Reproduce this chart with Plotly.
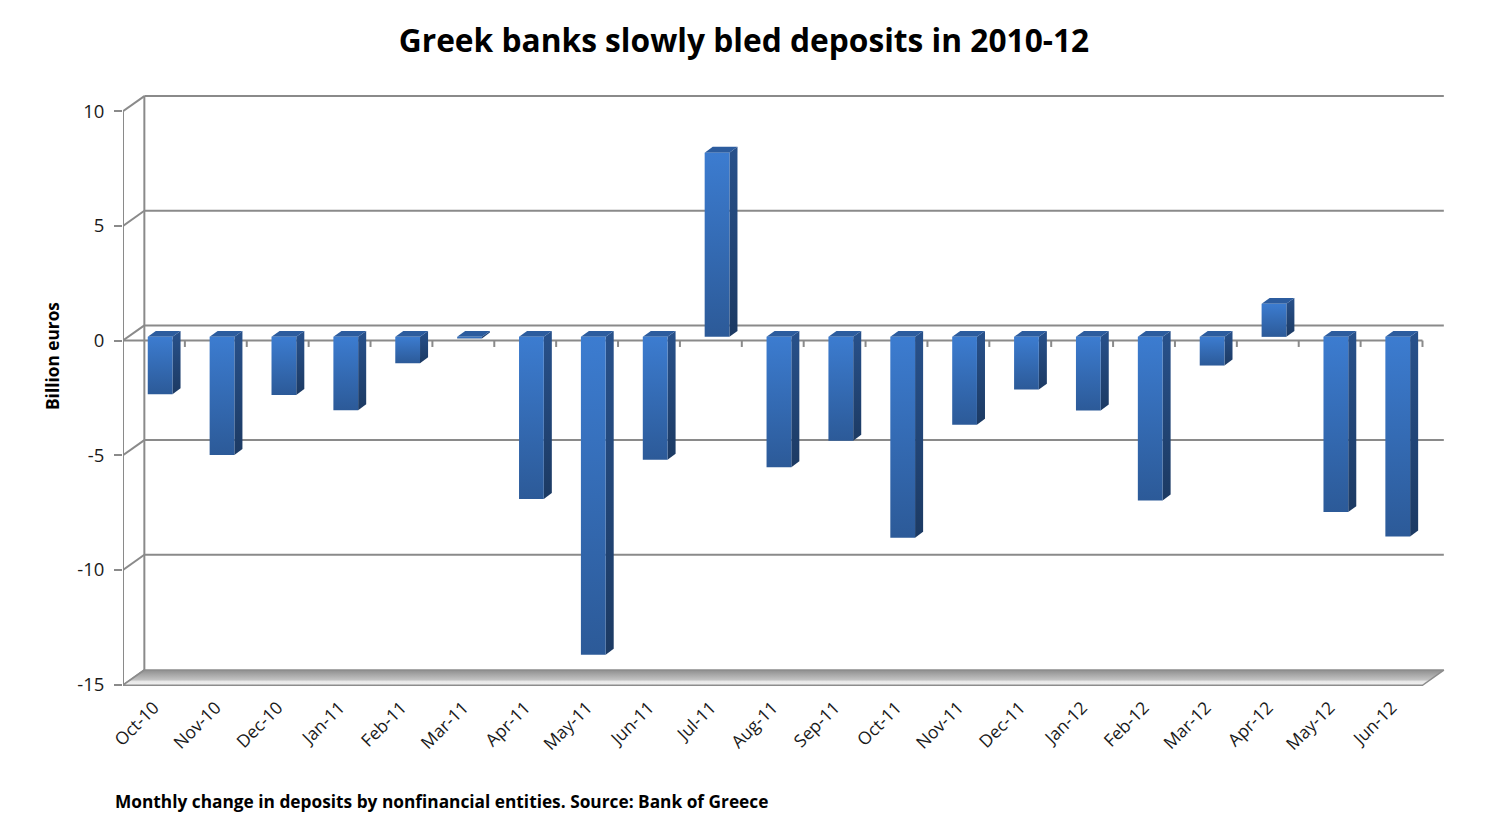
import plotly.graph_objects as go

# ---------------- data ----------------
months = ["Oct-10", "Nov-10", "Dec-10", "Jan-11", "Feb-11", "Mar-11", "Apr-11",
          "May-11", "Jun-11", "Jul-11", "Aug-11", "Sep-11", "Oct-11", "Nov-11",
          "Dec-11", "Jan-12", "Feb-12", "Mar-12", "Apr-12", "May-12", "Jun-12"]
changes = [-2.50, -5.15, -2.53, -3.20, -1.15, -0.07, -7.07,
           -13.86, -5.36, 8.03, -5.68, -4.53, -8.76, -3.83,
           -2.30, -3.21, -7.13, -1.25, 1.44, -7.64, -8.70]
y_ticks = [-15, -10, -5, 0, 5, 10]

title_text = "Greek banks slowly bled deposits in 2010-12"
y_title = "Billion euros"
footer = "Monthly change in deposits by nonfinancial entities. Source: Bank of Greece"

# ---------------- geometry / style ----------------
OFF = 8                      # page body margin
W, H = 1487 - 2 * OFF, 826 - 2 * OFF
L, T = 123 - OFF, 94 - OFF
PW, PH = 1323, 594
R, B = W - L - PW, H - T - PH
X_RANGE = [-0.5, 20.88]
Y_RANGE = [-15.15, 10.75]
BASE = 0.16            # bar baseline (bars sit slightly behind the front plane)
FX0, FX1 = -0.10, 0.30  # bar front face relative to category center
SDX, SDY = 0.13, 0.26   # bar depth offset
WDX, WDY = 0.345, 0.66  # back wall offset
X_LO, X_HI = -0.5, len(months) - 0.5
FLOOR = -15.03
GRID = "#8a8a8a"
FONT = "Open Sans"
TXT = "#1a1a1a"

def px_x(px):
    return (px - OFF - L) / PW

def px_y(py):
    return (T + PH - (py - OFF)) / PH

fig = go.Figure()

# floor slab
fx = [X_LO, X_HI, X_HI + WDX, X_LO + WDX, X_LO]
fy = [FLOOR, FLOOR, FLOOR + WDY, FLOOR + WDY, FLOOR]
fig.add_trace(go.Scatter(
    x=fx, y=fy, mode="lines", fill="toself",
    line=dict(color="#8c8c8c", width=1.5),
    fillgradient=dict(type="vertical", start=FLOOR, stop=FLOOR + WDY,
                      colorscale=[[0, "#f2f2f2"], [0.28, "#e6e6e6"],
                                  [0.34, "#c4c4c4"], [1, "#8f8f8f"]]),
    hoverinfo="skip", showlegend=False))

shapes = []
def line(x0, y0, x1, y1, w=2, c=GRID):
    shapes.append(dict(type="line", xref="x", yref="y", x0=x0, y0=y0, x1=x1, y1=y1,
                       line=dict(color=c, width=w), layer="below"))

# back wall gridlines + connectors
for v in y_ticks:
    if v > -15:
        line(X_LO + WDX, v + WDY, X_HI + WDX, v + WDY)
    line(X_LO, v if v > -15 else FLOOR, X_LO + WDX, (v if v > -15 else FLOOR) + WDY)
# back wall left edge and front value axis
line(X_LO + WDX, FLOOR + WDY, X_LO + WDX, y_ticks[-1] + WDY)
line(X_LO, FLOOR, X_LO, y_ticks[-1])
# front category axis at zero with boundary ticks
line(X_LO, 0, X_HI, 0)
for k in range(1, len(months) + 1):
    line(X_LO + k, 0, X_LO + k, -0.28)

# bars (front, side, top faces)
for i, (m, v) in enumerate(zip(months, changes)):
    x0, x1 = i + FX0, i + FX1
    ylo, yhi = min(BASE, BASE + v), max(BASE, BASE + v)
    # side face
    fig.add_trace(go.Scatter(
        x=[x1, x1 + SDX, x1 + SDX, x1, x1],
        y=[ylo, ylo + SDY, yhi + SDY, yhi, ylo],
        mode="lines", fill="toself", line=dict(width=0, color="#1f3f6c"),
        fillgradient=dict(type="vertical", start=ylo, stop=yhi + SDY,
                          colorscale=[[0, "#1c3a63"], [1, "#28518b"]]),
        hoverinfo="skip", showlegend=False))
    # top face
    fig.add_trace(go.Scatter(
        x=[x0, x1, x1 + SDX, x0 + SDX, x0],
        y=[yhi, yhi, yhi + SDY, yhi + SDY, yhi],
        mode="lines", fill="toself", line=dict(width=0, color="#2c5c9e"),
        fillcolor="#2c5c9e", hoverinfo="skip", showlegend=False))
    # front face
    fig.add_trace(go.Scatter(
        x=[x0, x1, x1, x0, x0],
        y=[ylo, ylo, yhi, yhi, ylo],
        mode="lines", fill="toself", line=dict(width=0, color="#3469b3"),
        fillgradient=dict(type="vertical", start=ylo, stop=yhi,
                          colorscale=[[0, "#2c5a98"], [1, "#3c7cd0"]]),
        text=f"{m}: {v:+.2f}", hoverinfo="text", showlegend=False))

fig.update_layout(
    width=W, height=H,
    margin=dict(l=L, r=R, t=T, b=B),
    paper_bgcolor="white", plot_bgcolor="white",
    shapes=shapes,
    font=dict(family=FONT, color=TXT),
    title=dict(text=f"<b>{title_text}</b>", x=(744 - OFF) / W, y=1 - (40.5 - OFF) / H,
               xanchor="center", yanchor="middle",
               font=dict(size=31.7, family=FONT, color="#000000")),
    xaxis=dict(range=X_RANGE, showgrid=False, zeroline=False, showline=False,
               tickmode="array", tickvals=list(range(len(months))), ticktext=months,
               tickangle=-45, ticks="", ticklabelstandoff=5,
               tickfont=dict(size=17.5, color=TXT)),
    yaxis=dict(range=Y_RANGE, showgrid=False, zeroline=False, showline=False,
               tickmode="array", tickvals=y_ticks, ticktext=[str(t) for t in y_ticks],
               ticks="outside", ticklen=8, tickwidth=2, tickcolor=GRID,
               ticklabelstandoff=6, tickfont=dict(size=18.5, color=TXT)),
    annotations=[
        dict(text=f"<b>{y_title}</b>", xref="paper", yref="paper",
             x=px_x(52), y=px_y(356),
             textangle=-90, showarrow=False, xanchor="center", yanchor="middle",
             font=dict(size=17.3, color="#000000")),
        dict(text=f"<b>{footer}</b>", xref="paper", yref="paper",
             x=px_x(113), y=px_y(802),
             showarrow=False, xanchor="left", yanchor="middle",
             font=dict(size=17.3, color="#000000")),
    ],
)

fig.write_html("out.html")
